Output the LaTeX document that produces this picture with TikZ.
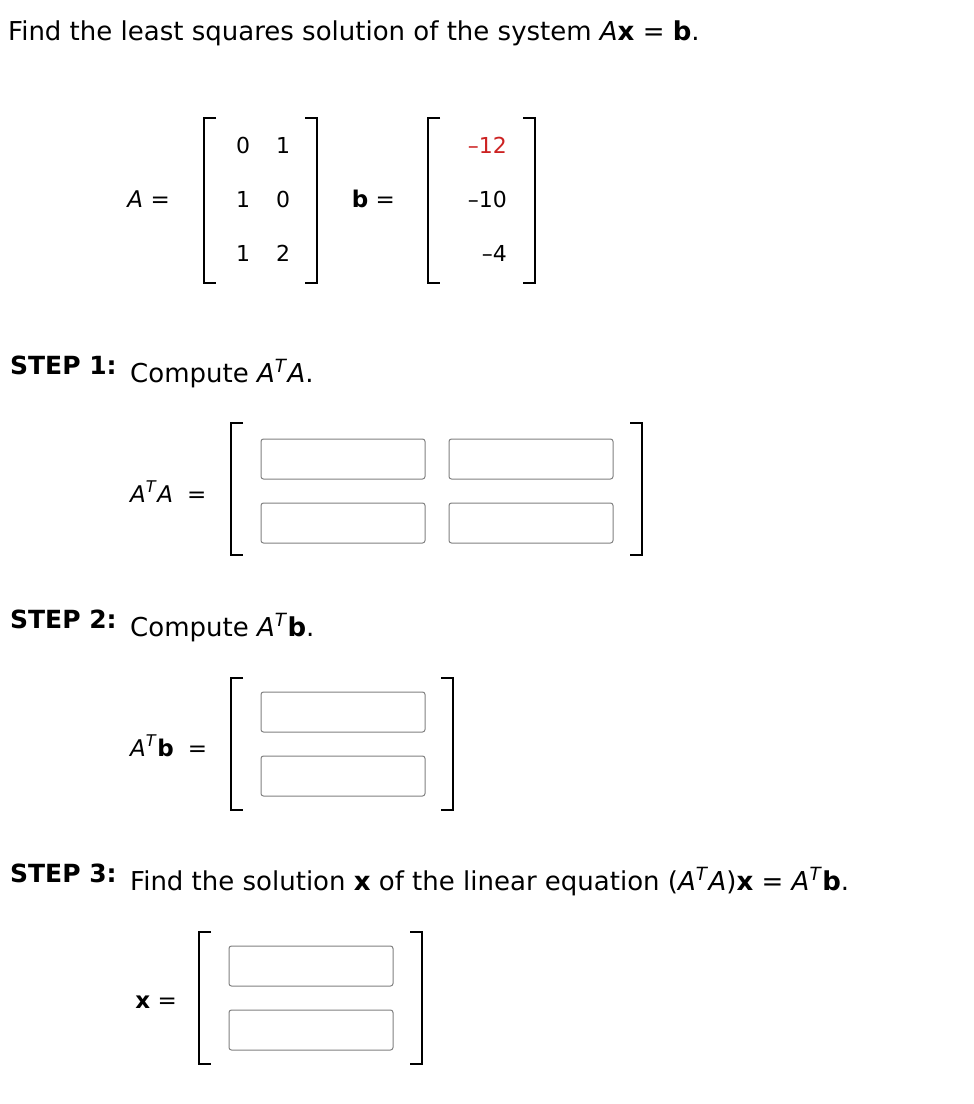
\documentclass[tikz,border=0pt]{standalone}
\usepackage{fontspec}
\setmainfont{DejaVu Sans}
\begin{document}
\begin{tikzpicture}[x=1pt,y=-1pt,
  txt/.style={inner sep=0pt,font=\fontsize{23}{27}\selectfont},
  stp/.style={inner sep=0pt,font=\fontsize{25}{29}\selectfont},
  big/.style={inner sep=0pt,font=\fontsize{26}{30}\selectfont},
  ent/.style={inner sep=0pt,font=\fontsize{22}{26}\selectfont},
  inbox/.style={draw=gray,line width=1pt,rounded corners=2.5pt,minimum width=164pt,minimum height=40pt,inner sep=0pt},
  brk/.style={line width=1.1pt}]
\useasboundingbox (0,0) rectangle (974,1104);
\newcommand{\lbr}[3]{\draw[brk] (#1+12,#2)--(#1,#2)--(#1,#3)--(#1+12,#3);}
\newcommand{\rbr}[3]{\draw[brk] (#1-12,#2)--(#1,#2)--(#1,#3)--(#1-12,#3);}
\node[big,anchor=base west] (title) at (8,40) {Find the least squares solution of the system \textit{A}\textbf{x} = \textbf{b}.};
% A
\node[txt,anchor=base east] (Aeq) at (170,207) {\textit{A} =};
\lbr{204}{118}{283}\rbr{317}{118}{283}
\node[ent,anchor=base] (a11) at (243,153) {0};
\node[ent,anchor=base] (a12) at (283,153) {1};
\node[ent,anchor=base] (a21) at (243,207) {1};
\node[ent,anchor=base] (a22) at (283,207) {0};
\node[ent,anchor=base] (a31) at (243,261) {1};
\node[ent,anchor=base] (a32) at (283,261) {2};
% b
\node[txt,anchor=base east] (beq) at (395,207) {\textbf{b} =};
\lbr{428}{118}{283}\rbr{535}{118}{283}
\node[ent,anchor=base east,text={rgb,255:red,204;green,34;blue,34}] (b1) at (507,153) {\textendash12};
\node[ent,anchor=base east] (b2) at (507,207) {\textendash10};
\node[ent,anchor=base east] (b3) at (507,261) {\textendash4};
% step 1
\node[stp,anchor=base west] (s1) at (10,374) {\textbf{STEP 1:}};
\node[big,anchor=base west] (s1t) at (130,382) {Compute \textit{A}\textsuperscript{\textit{T}}\textit{A}.};
\node[txt,anchor=base west] (ataeq) at (130,502) {\textit{A}\textsuperscript{\textit{T}}\textit{A}\hspace{14pt}=};
\lbr{231}{423}{555}\rbr{642}{423}{555}
\node[inbox] (m11) at (343,459) {};
\node[inbox] (m12) at (531,459) {};
\node[inbox] (m21) at (343,523) {};
\node[inbox] (m22) at (531,523) {};
% step 2
\node[stp,anchor=base west] (s2) at (10,628) {\textbf{STEP 2:}};
\node[big,anchor=base west] (s2t) at (130,636) {Compute \textit{A}\textsuperscript{\textit{T}}\textbf{b}.};
\node[txt,anchor=base west] (atbeq) at (130,756) {\textit{A}\textsuperscript{\textit{T}}\textbf{b}\hspace{14pt}=};
\lbr{231}{678}{810}\rbr{453}{678}{810}
\node[inbox] (v1) at (343,712) {};
\node[inbox] (v2) at (343,776) {};
% step 3
\node[stp,anchor=base west] (s3) at (10,882) {\textbf{STEP 3:}};
\node[big,anchor=base west] (s3t) at (130,890) {Find the solution \textbf{x} of the linear equation (\textit{A}\textsuperscript{\textit{T}}\textit{A})\textbf{x} = \textit{A}\textsuperscript{\textit{T}}\textbf{b}.};
\node[txt,anchor=base east] (xeq) at (177,1008) {\textbf{x} =};
\lbr{199}{932}{1064}\rbr{422}{932}{1064}
\node[inbox] (x1) at (311,966) {};
\node[inbox] (x2) at (311,1030) {};
\end{tikzpicture}
\end{document}
